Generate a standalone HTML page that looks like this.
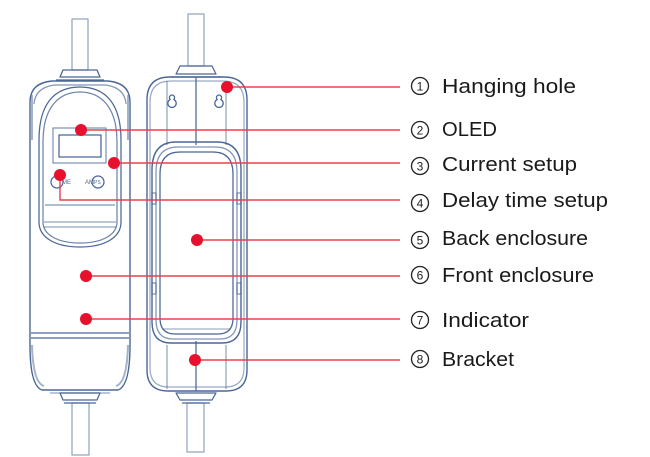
<!DOCTYPE html>
<html><head><meta charset="utf-8"><style>
html,body{margin:0;padding:0;background:#fff;}
svg{display:block;}
</style></head><body>
<svg width="650" height="457" viewBox="0 0 650 457" xmlns="http://www.w3.org/2000/svg">
<rect width="650" height="457" fill="#fff"/>
<g fill="none" stroke="#4a6696" stroke-width="1.25" stroke-linejoin="round">
  <!-- LEFT DEVICE -->
  <rect x="72" y="19" width="16" height="51" stroke-opacity="0.6"/>
  <path d="M63,70 L97,70 L100,77 L60,77 Z"/>
  <line x1="56" y1="80" x2="104" y2="80"/>
  <path d="M30,102 Q30,83 52,81 L108,81 Q130,83 130,102 L130,345 Q130,386 118,390 L42,390 Q30,386 30,345 Z" stroke-width="1.4"/>
  <path d="M34,104 Q35,88 54,85 L106,85 Q125,88 126,104" stroke-opacity="0.7"/>
  <path d="M32,95 L32,140 M128,95 L128,140" stroke-width="2" stroke-opacity="0.5"/>
  <line x1="31" y1="333" x2="129" y2="333"/>
  <line x1="31" y1="338" x2="129" y2="338"/>
  <path d="M32,345 Q33,383 44,386 M128,345 Q127,383 116,386" stroke-width="2" stroke-opacity="0.5"/>
  <line x1="50" y1="393" x2="110" y2="393" stroke-opacity="0.6"/>
  <!-- front panel -->
  <path d="M39,222 L39,140 C39,102 56,87 80,87 C104,87 121,102 121,140 L121,222 C121,238 104,247 80,247 C56,247 39,238 39,222 Z"/>
  <path d="M43,222 L43,142 C43,107 59,92 80,92 C101,92 117,107 117,142 L117,222 C117,235 102,243 80,243 C58,243 43,235 43,222 Z" stroke-opacity="0.8"/>
  <line x1="45" y1="205" x2="115" y2="205" stroke-opacity="0.7"/>
  <line x1="44" y1="222" x2="116" y2="222" stroke-opacity="0.6"/>
  <line x1="44" y1="227" x2="116" y2="227" stroke-opacity="0.6"/>
  <!-- OLED -->
  <rect x="53" y="128" width="53" height="35" stroke-opacity="0.7"/>
  <rect x="59" y="135" width="42" height="22"/>
  <!-- buttons -->
  <circle cx="57" cy="182" r="6"/>
  <circle cx="98" cy="182" r="6"/>
  <!-- bottom cap & cable -->
  <path d="M60,393 L100,393 L97,400 L63,400 Z"/>
  <line x1="64" y1="403" x2="96" y2="403"/>
  <rect x="72" y="403" width="17" height="52" stroke-opacity="0.6"/>

  <!-- RIGHT DEVICE -->
  <rect x="188" y="14" width="16" height="52" stroke-opacity="0.6"/>
  <path d="M180,66 L212,66 L216,74 L176,74 Z"/>
  <line x1="170" y1="77" x2="222" y2="77"/>
  <path d="M147,100 Q147,77 170,77 L224,77 Q247,77 247,100 L247,370 Q247,391 226,391 L168,391 Q147,391 147,370 Z" stroke-width="1.4"/>
  <path d="M150,102 Q150,81 171,81 L223,81 Q244,81 244,102 L244,368 Q244,387 225,387 L169,387 Q150,387 150,368 Z" stroke-opacity="0.55"/>
  <line x1="167" y1="81" x2="167" y2="145" stroke-opacity="0.6"/>
  <line x1="226" y1="81" x2="226" y2="145" stroke-opacity="0.6"/>
  <line x1="196" y1="77" x2="196" y2="145"/>
  <!-- keyholes -->
  <path d="M170.2,99.5 A2.6,2.6 0 1 1 173.8,99.5 A4.2,4.2 0 1 1 170.2,99.5 Z"/>
  <path d="M217.2,99.5 A2.6,2.6 0 1 1 220.8,99.5 A4.2,4.2 0 1 1 217.2,99.5 Z"/>
  <!-- back enclosure frame -->
  <path d="M152,170 Q152,142 176,142 L217,142 Q241,142 241,170 L241,322 Q241,343 222,343 L171,343 Q152,343 152,322 Z" stroke-width="1.4"/>
  <path d="M156,172 Q156,147 178,147 L215,147 Q237,147 237,172 L237,320 Q237,339 220,339 L173,339 Q156,339 156,320 Z" stroke-opacity="0.7"/>
  <path d="M160,174 Q160,152 180,152 L213,152 Q233,152 233,174 L233,318 Q233,334 218,334 L175,334 Q160,334 160,318 Z"/>
  <line x1="162" y1="329" x2="231" y2="329" stroke-opacity="0.5"/>
  <rect x="152" y="193" width="4" height="11" stroke-opacity="0.7"/>
  <rect x="237" y="193" width="4" height="11" stroke-opacity="0.7"/>
  <rect x="152" y="283" width="4" height="11" stroke-opacity="0.7"/>
  <rect x="237" y="283" width="4" height="11" stroke-opacity="0.7"/>
  <line x1="167" y1="345" x2="167" y2="389" stroke-opacity="0.6"/>
  <line x1="226" y1="345" x2="226" y2="389" stroke-opacity="0.6"/>
  <line x1="196" y1="341" x2="196" y2="391"/>
  <!-- bottom cap & cable -->
  <path d="M176,393 L216,393 L212,400 L180,400 Z"/>
  <line x1="182" y1="403" x2="210" y2="403"/>
  <rect x="187" y="403" width="17" height="49" stroke-opacity="0.6"/>
</g>
<!-- tiny button text -->
<g font-family="Liberation Sans, sans-serif" font-size="6" fill="#4f6b99">
  <text x="62" y="184">ME</text>
  <text x="85" y="184">AM</text>
  <text x="94" y="184" font-size="5">PS</text>
</g>
<!-- leader lines -->
<g stroke="#e8404c" stroke-width="1.4" fill="none">
  <line x1="227" y1="87" x2="400" y2="87"/>
  <line x1="81" y1="130" x2="400" y2="130"/>
  <line x1="114" y1="163" x2="400" y2="163"/>
  <polyline points="60,175 60,200 400,200"/>
  <line x1="197" y1="240" x2="400" y2="240"/>
  <line x1="86" y1="276" x2="400" y2="276"/>
  <line x1="86" y1="319" x2="400" y2="319"/>
  <line x1="195" y1="360" x2="400" y2="360"/>
</g>
<g fill="#e8112d">
  <circle cx="227" cy="87" r="6"/>
  <circle cx="81" cy="130" r="6"/>
  <circle cx="114" cy="163" r="6"/>
  <circle cx="60" cy="175" r="6"/>
  <circle cx="197" cy="240" r="6"/>
  <circle cx="86" cy="276" r="6"/>
  <circle cx="86" cy="319" r="6"/>
  <circle cx="195" cy="360" r="6"/>
</g>
<!-- circled numbers -->
<g fill="none" stroke="#222" stroke-width="1.3">
  <circle cx="420" cy="86" r="8.5"/>
  <circle cx="420" cy="130" r="8.5"/>
  <circle cx="420" cy="166" r="8.5"/>
  <circle cx="420" cy="203" r="8.5"/>
  <circle cx="420" cy="240" r="8.5"/>
  <circle cx="420" cy="275" r="8.5"/>
  <circle cx="420" cy="320" r="8.5"/>
  <circle cx="420" cy="359" r="8.5"/>
</g>
<g font-family="Liberation Sans, sans-serif" font-size="12" fill="#222" text-anchor="middle">
  <text x="420" y="90.3">1</text>
  <text x="420" y="134.3">2</text>
  <text x="420" y="170.3">3</text>
  <text x="420" y="207.3">4</text>
  <text x="420" y="244.3">5</text>
  <text x="420" y="279.3">6</text>
  <text x="420" y="324.3">7</text>
  <text x="420" y="363.3">8</text>
</g>
<g font-family="Liberation Sans, sans-serif" font-size="20" fill="#1a1a1a">
  <text x="442" y="93" textLength="134" lengthAdjust="spacingAndGlyphs">Hanging hole</text>
  <text x="442" y="136" textLength="55" lengthAdjust="spacingAndGlyphs">OLED</text>
  <text x="442" y="171" textLength="135" lengthAdjust="spacingAndGlyphs">Current setup</text>
  <text x="442" y="207" textLength="166" lengthAdjust="spacingAndGlyphs">Delay time setup</text>
  <text x="442" y="245" textLength="146" lengthAdjust="spacingAndGlyphs">Back enclosure</text>
  <text x="442" y="282" textLength="152" lengthAdjust="spacingAndGlyphs">Front enclosure</text>
  <text x="442" y="327" textLength="87" lengthAdjust="spacingAndGlyphs">Indicator</text>
  <text x="442" y="366" textLength="72" lengthAdjust="spacingAndGlyphs">Bracket</text>
</g>
</svg>
</body></html>
